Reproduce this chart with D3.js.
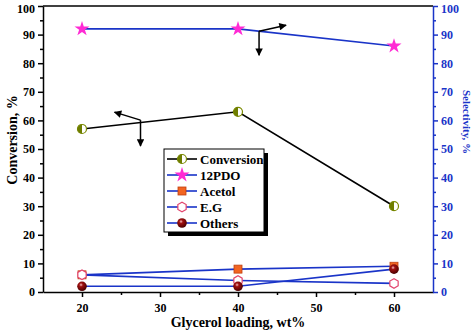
<!DOCTYPE html>
<html><head><meta charset="utf-8">
<script src="https://cdn.jsdelivr.net/npm/d3@7"></script>
<style>body{margin:0;background:#fff}svg{display:block}</style>
</head><body>
<script>
const loading = [20, 40, 60];
const conversion = [57, 63, 30];
const pdo12 = [92, 92, 86];
const acetol = [6, 8, 9];
const eg = [6, 4, 3];
const others = [2, 2, 8];
const xTicks = [20, 30, 40, 50, 60];
const yTicks = [0, 10, 20, 30, 40, 50, 60, 70, 80, 90, 100];
const legendNames = ["Conversion", "12PDO", "Acetol", "E.G", "Others"];

const W = 474, H = 333;
const m = {l: 43, r: 433, t: 6, b: 292};
const blue = "#1a34c8";
const svg = d3.select("body").append("svg").attr("width", W).attr("height", H);
const defs = svg.append("defs");
const grad = defs.append("radialGradient").attr("id", "ball").attr("cx", "40%").attr("cy", "35%").attr("r", "65%");
grad.append("stop").attr("offset", "0%").attr("stop-color", "#f4c0c0");
grad.append("stop").attr("offset", "30%").attr("stop-color", "#a01010");
grad.append("stop").attr("offset", "100%").attr("stop-color", "#4a0000");

const x = d3.scaleLinear().domain([15, 65]).range([m.l, m.r]);
const yL = d3.scaleLinear().domain([0, 100]).range([m.b, m.t]);
const yR = d3.scaleLinear().domain([0, 100]).range([m.b, m.t]);

const font = "'Liberation Serif', 'Times New Roman', serif";

// top border
svg.append("line").attr("x1", m.l).attr("x2", m.r).attr("y1", m.t).attr("y2", m.t)
  .attr("stroke", "#000").attr("stroke-width", 1.5);

// bottom axis
const gx = svg.append("g").attr("transform", `translate(0,${m.b})`)
  .call(d3.axisBottom(x).tickValues(xTicks).tickSize(5).tickSizeOuter(0).tickPadding(6));
svg.append("g").attr("transform", `translate(0,${m.b})`)
  .call(d3.axisBottom(x).tickValues([25, 35, 45, 55]).tickSize(3).tickFormat("").tickSizeOuter(0))
  .select(".domain").remove();
// left axis
const gy = svg.append("g").attr("transform", `translate(${m.l},0)`)
  .call(d3.axisLeft(yL).tickValues(yTicks).tickSize(5).tickSizeOuter(0).tickPadding(3));
svg.append("g").attr("transform", `translate(${m.l},0)`)
  .call(d3.axisLeft(yL).tickValues(d3.range(5, 100, 10)).tickSize(3).tickFormat("").tickSizeOuter(0))
  .select(".domain").remove();
// right axis
const gr = svg.append("g").attr("transform", `translate(${m.r},0)`)
  .call(d3.axisRight(yR).tickValues(yTicks).tickSize(5).tickSizeOuter(0).tickPadding(3));
const grm = svg.append("g").attr("transform", `translate(${m.r},0)`)
  .call(d3.axisRight(yR).tickValues(d3.range(5, 100, 10)).tickSize(3).tickFormat("").tickSizeOuter(0));
grm.select(".domain").remove();

[gx, gy].forEach(g => {
  g.selectAll("path,line").attr("stroke", "#000").attr("stroke-width", 1.5);
  g.selectAll("text").attr("font-family", font).attr("font-weight", "bold").attr("font-size", 12).attr("fill", "#000");
});
svg.selectAll("g line").attr("stroke-width", 1.5);
gr.selectAll("path,line").attr("stroke", blue).attr("stroke-width", 1.5);
grm.selectAll("line").attr("stroke", blue);
gr.selectAll("text").attr("font-family", font).attr("font-weight", "bold").attr("font-size", 12).attr("fill", blue);
// keep the "100" labels inside the picture
gy.selectAll(".tick text").filter(d => d === 100).attr("dy", "0.5em");
gr.selectAll(".tick text").filter(d => d === 100).attr("dy", "0.5em");

// axis titles
svg.append("text").attr("transform", `translate(17,140) rotate(-90)`)
  .attr("text-anchor", "middle").attr("font-family", font).attr("font-weight", "bold").attr("font-size", 14)
  .text("Conversion, %");
svg.append("text").attr("transform", `translate(463,122) rotate(90)`)
  .attr("text-anchor", "middle").attr("font-family", font).attr("font-weight", "bold").attr("font-size", 11)
  .attr("fill", blue).text("Selectivity, %");
svg.append("text").attr("x", (m.l + m.r) / 2).attr("y", 327)
  .attr("text-anchor", "middle").attr("font-family", font).attr("font-weight", "bold").attr("font-size", 14)
  .text("Glycerol loading, wt%");

// markers
function marker(g, type, cx, cy) {
  if (type === 0) {
    g.append("circle").attr("cx", cx).attr("cy", cy).attr("r", 4.5).attr("fill", "#fff").attr("stroke", "#7a8a00").attr("stroke-width", 1.2);
    g.append("path").attr("d", `M${cx},${cy - 4.5} A4.5,4.5 0 0 0 ${cx},${cy + 4.5} Z`).attr("fill", "#6e7d00");
  } else if (type === 1) {
    g.append("path").attr("transform", `translate(${cx},${cy})`)
      .attr("d", d3.symbol(d3.symbolStar, 70)()).attr("fill", "#ff2ad4");
  } else if (type === 2) {
    g.append("rect").attr("x", cx - 4).attr("y", cy - 4).attr("width", 8).attr("height", 8)
      .attr("fill", "#f26522").attr("stroke", "#c04010").attr("stroke-width", 0.8);
  } else if (type === 3) {
    const pts = d3.range(6).map(i => { const a = Math.PI / 6 + i * Math.PI / 3; return [cx + 4.8 * Math.cos(a), cy + 4.8 * Math.sin(a)]; });
    g.append("polygon").attr("points", pts.map(p => p.join(",")).join(" ")).attr("fill", "#fff")
      .attr("stroke", "#e2456e").attr("stroke-width", 1.2);
  } else {
    g.append("circle").attr("cx", cx).attr("cy", cy).attr("r", 4.8).attr("fill", "url(#ball)");
  }
}

const series = [
  {vals: conversion, y: yL, color: "#000"},
  {vals: pdo12, y: yR, color: blue},
  {vals: acetol, y: yR, color: blue},
  {vals: eg, y: yR, color: blue},
  {vals: others, y: yR, color: blue}
];
const line = (ys) => d3.line().x((d, i) => x(loading[i])).y(d => ys(d));
series.forEach(s => {
  svg.append("path").attr("d", line(s.y)(s.vals)).attr("fill", "none").attr("stroke", s.color).attr("stroke-width", 1.6);
});
[1, 2, 3, 4, 0].forEach(k => {
  const s = series[k];
  const g = svg.append("g");
  s.vals.forEach((v, i) => marker(g, k, x(loading[i]), s.y(v)));
});

// arrows
defs.append("marker").attr("id", "ah").attr("viewBox", "0 0 10 10").attr("refX", 9).attr("refY", 5)
  .attr("markerWidth", 6).attr("markerHeight", 5).attr("orient", "auto")
  .append("path").attr("d", "M0,0 L10,5 L0,10 Z").attr("fill", "#000");
function arrowPair(cx, cy, hx, hy, dy) {
  svg.append("line").attr("x1", cx).attr("y1", cy).attr("x2", hx).attr("y2", hy)
    .attr("stroke", "#000").attr("stroke-width", 1.5).attr("marker-end", "url(#ah)");
  svg.append("line").attr("x1", cx).attr("y1", cy).attr("x2", cx).attr("y2", cy + dy)
    .attr("stroke", "#000").attr("stroke-width", 1.5).attr("marker-end", "url(#ah)");
}
// conversion -> left axis
const cAx = x(27.5), cAy = yL(60.1);
arrowPair(cAx, cAy, cAx - 26, cAy - 8, 26);
// 12PDO -> right axis
const pAx = x(42.7), pAy = yR(91.2);
arrowPair(pAx, pAy, pAx + 27, pAy - 6, 24);

// legend
const lg = svg.append("g").attr("transform", "translate(164,149)");
lg.append("rect").attr("x", 4).attr("y", 4).attr("width", 100).attr("height", 83).attr("fill", "#000");
lg.append("rect").attr("x", 0).attr("y", 0).attr("width", 100).attr("height", 83).attr("fill", "#fff").attr("stroke", "#000").attr("stroke-width", 1);
legendNames.forEach((n, i) => {
  const yy = 10 + i * 16;
  lg.append("line").attr("x1", 3).attr("x2", 33).attr("y1", yy).attr("y2", yy).attr("stroke", series[i].color).attr("stroke-width", 1.6);
  marker(lg, i, 18, yy);
  lg.append("text").attr("x", 36).attr("y", yy + 4.5).attr("font-family", font).attr("font-weight", "bold")
    .attr("font-size", 13).text(n);
});
</script>
</body></html>
